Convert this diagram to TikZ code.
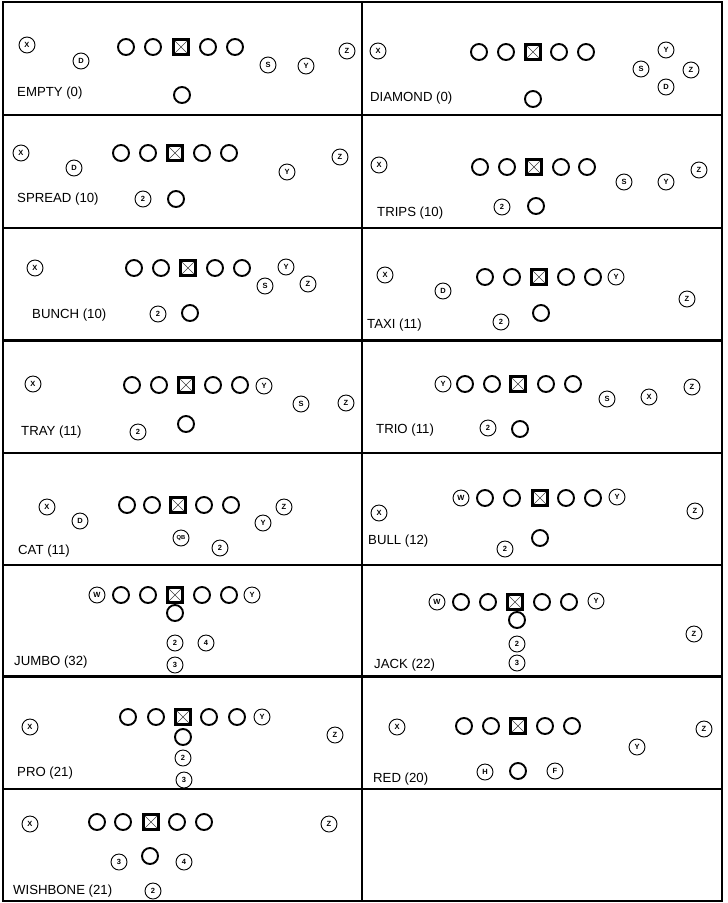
\documentclass[tikz,border=0pt]{standalone}
\usepackage{fontspec}
\setmainfont{Liberation Sans}
\begin{document}
\begin{tikzpicture}[x=1pt,y=-1pt,
  ol/.style={circle,draw,line width=1.9pt,minimum size=16pt,inner sep=0pt},
  ctr/.style={rectangle,draw,line width=2.2pt,minimum size=15pt,inner sep=0pt,
    path picture={\draw[line width=0.6pt,black!75]
      (path picture bounding box.north west) -- (path picture bounding box.south east)
      (path picture bounding box.north east) -- (path picture bounding box.south west);}},
  sk/.style={circle,draw,line width=0.9pt,minimum size=16pt,inner sep=0pt,
    font=\fontsize{7.5}{7.5}\selectfont\bfseries},
  qbs/.style={sk,font=\fontsize{5.8}{5.8}\selectfont\bfseries},
  lab/.style={anchor=west,inner sep=0pt,font=\fontsize{13.2}{13.2}\selectfont},
  grid/.style={line width=2.4pt}]
\useasboundingbox (0,0) rectangle (728,903);
\newcommand\oline[7]{%
  \node[ol] (#1a) at (#3,#2) {};
  \node[ol] (#1b) at (#4,#2) {};
  \node[ctr] (#1c) at (#5,#2) {};
  \node[ol] (#1d) at (#6,#2) {};
  \node[ol] (#1e) at (#7,#2) {};}
% grid
\draw[grid] (3,2) rectangle (722,901);
\draw[grid] (362,2) -- (362,901);
\foreach \yy in {115,228,340.5,453,565,676.5,789}
  \draw[grid] (3,\yy) -- (722,\yy);

% EMPTY
\oline{ea}{47}{126}{153}{181}{208}{235}
\node[sk] (ex) at (27,45) {X};
\node[sk] (ed) at (81,61) {D};
\node[sk] (es) at (268,65) {S};
\node[sk] (ey) at (306,66) {Y};
\node[sk] (ez) at (347,51) {Z};
\node[ol] (eq) at (182,95) {};
\node[lab] (el) at (17,93) {EMPTY (0)};

% SPREAD
\oline{sa}{153}{121}{148}{175}{202}{229}
\node[sk] (sx) at (21,153) {X};
\node[sk] (sd) at (74,168) {D};
\node[sk] (sy) at (287,172) {Y};
\node[sk] (sz) at (340,157) {Z};
\node[sk] (s2) at (143,199) {2};
\node[ol] (sq) at (176,199) {};
\node[lab] (sl) at (17,199) {SPREAD (10)};

% DIAMOND
\oline{da}{52}{479}{506}{533}{559}{586}
\node[sk] (dx) at (378,51) {X};
\node[sk] (dy) at (666,50) {Y};
\node[sk] (ds) at (641,69) {S};
\node[sk] (dz) at (691,70) {Z};
\node[sk] (dd) at (666,87) {D};
\node[ol] (dq) at (533,99) {};
\node[lab] (dl) at (370,98) {DIAMOND (0)};

% TRIPS
\oline{ta}{167}{480}{507}{534}{561}{587}
\node[sk] (tx) at (379,165) {X};
\node[sk] (ts) at (624,182) {S};
\node[sk] (ty) at (666,182) {Y};
\node[sk] (tz) at (699,170) {Z};
\node[sk] (t2) at (502,207) {2};
\node[ol] (tq) at (536,206) {};
\node[lab] (tl) at (377,213) {TRIPS (10)};

% BUNCH
\oline{ba}{268}{134}{161}{188}{215}{242}
\node[sk] (bx) at (35,268) {X};
\node[sk] (by) at (286,267) {Y};
\node[sk] (bs) at (265,286) {S};
\node[sk] (bz) at (308,284) {Z};
\node[sk] (b2) at (158,314) {2};
\node[ol] (bq) at (190,313) {};
\node[lab] (bl) at (32,315) {BUNCH (10)};

% TRAY
\oline{ra}{385}{132}{159}{186}{213}{240}
\node[sk] (rx) at (33,384) {X};
\node[sk] (ry) at (264,386) {Y};
\node[sk] (rs) at (301,404) {S};
\node[sk] (rz) at (346,403) {Z};
\node[sk] (r2) at (138,432) {2};
\node[ol] (rq) at (186,424) {};
\node[lab] (rl) at (21,432) {TRAY (11)};

% TAXI
\oline{xa}{277}{485}{512}{539}{566}{593}
\node[sk] (xx) at (385,275) {X};
\node[sk] (xd) at (443,291) {D};
\node[sk] (xy) at (616,277) {Y};
\node[sk] (xz) at (687,299) {Z};
\node[sk] (x2) at (501,322) {2};
\node[ol] (xq) at (541,313) {};
\node[lab] (xl) at (367,325) {TAXI (11)};

% TRIO
\oline{oa}{384}{465}{492}{518}{546}{573}
\node[sk] (oy) at (443,384) {Y};
\node[sk] (os) at (607,399) {S};
\node[sk] (ox) at (649,397) {X};
\node[sk] (oz) at (692,387) {Z};
\node[sk] (o2) at (488,428) {2};
\node[ol] (oq) at (520,429) {};
\node[lab] (ol) at (376,430) {TRIO (11)};

% CAT
\oline{ca}{505}{127}{152}{178}{204}{231}
\node[sk] (cx) at (47,507) {X};
\node[sk] (cd) at (80,521) {D};
\node[sk] (cz) at (284,507) {Z};
\node[sk] (cy) at (263,523) {Y};
\node[qbs] (cq) at (181,538) {QB};
\node[sk] (c2) at (220,548) {2};
\node[lab] (cl) at (18,551) {CAT (11)};

% JUMBO
\oline{ja}{595}{121}{148}{175}{202}{229}
\node[sk] (jw) at (97,595) {W};
\node[sk] (jy) at (252,595) {Y};
\node[ol] (jq) at (175,613) {};
\node[sk] (j2) at (175,643) {2};
\node[sk] (j4) at (206,643) {4};
\node[sk] (j3) at (175,665) {3};
\node[lab] (jl) at (14,662) {JUMBO (32)};

% BULL
\oline{ua}{498}{485}{512}{540}{566}{593}
\node[sk] (uw) at (461,498) {W};
\node[sk] (uy) at (617,497) {Y};
\node[sk] (ux) at (379,513) {X};
\node[sk] (uz) at (695,511) {Z};
\node[ol] (uq) at (540,538) {};
\node[sk] (u2) at (505,549) {2};
\node[lab] (ul) at (368,541) {BULL (12)};

% JACK
\oline{ka}{602}{461}{488}{515}{542}{569}
\node[sk] (kw) at (437,602) {W};
\node[sk] (ky) at (596,601) {Y};
\node[ol] (kq) at (517,620) {};
\node[sk] (k2) at (517,644) {2};
\node[sk] (k3) at (517,663) {3};
\node[sk] (kz) at (694,634) {Z};
\node[lab] (kl) at (374,665) {JACK (22)};

% PRO
\oline{pa}{717}{128}{156}{183}{209}{237}
\node[sk] (px) at (30,727) {X};
\node[sk] (py) at (262,717) {Y};
\node[ol] (pq) at (183,737) {};
\node[sk] (p2) at (183,758) {2};
\node[sk] (p3) at (184,780) {3};
\node[sk] (pz) at (335,735) {Z};
\node[lab] (pl) at (17,773) {PRO (21)};

% RED
\oline{da2}{726}{464}{491}{518}{545}{572}
\node[sk] (edx) at (397,727) {X};
\node[sk] (edz) at (704,729) {Z};
\node[sk] (edy) at (637,747) {Y};
\node[sk] (edh) at (485,772) {H};
\node[ol] (edq) at (518,771) {};
\node[sk] (edf) at (555,771) {F};
\node[lab] (edl) at (373,779) {RED (20)};

% WISHBONE
\oline{wa}{822}{97}{123}{151}{177}{204}
\node[sk] (wx) at (30,824) {X};
\node[sk] (wz) at (329,824) {Z};
\node[sk] (w3) at (119,862) {3};
\node[ol] (wq) at (150,856) {};
\node[sk] (w4) at (184,862) {4};
\node[sk] (w2) at (153,891) {2};
\node[lab] (wl) at (13,891) {WISHBONE (21)};
\end{tikzpicture}
\end{document}
